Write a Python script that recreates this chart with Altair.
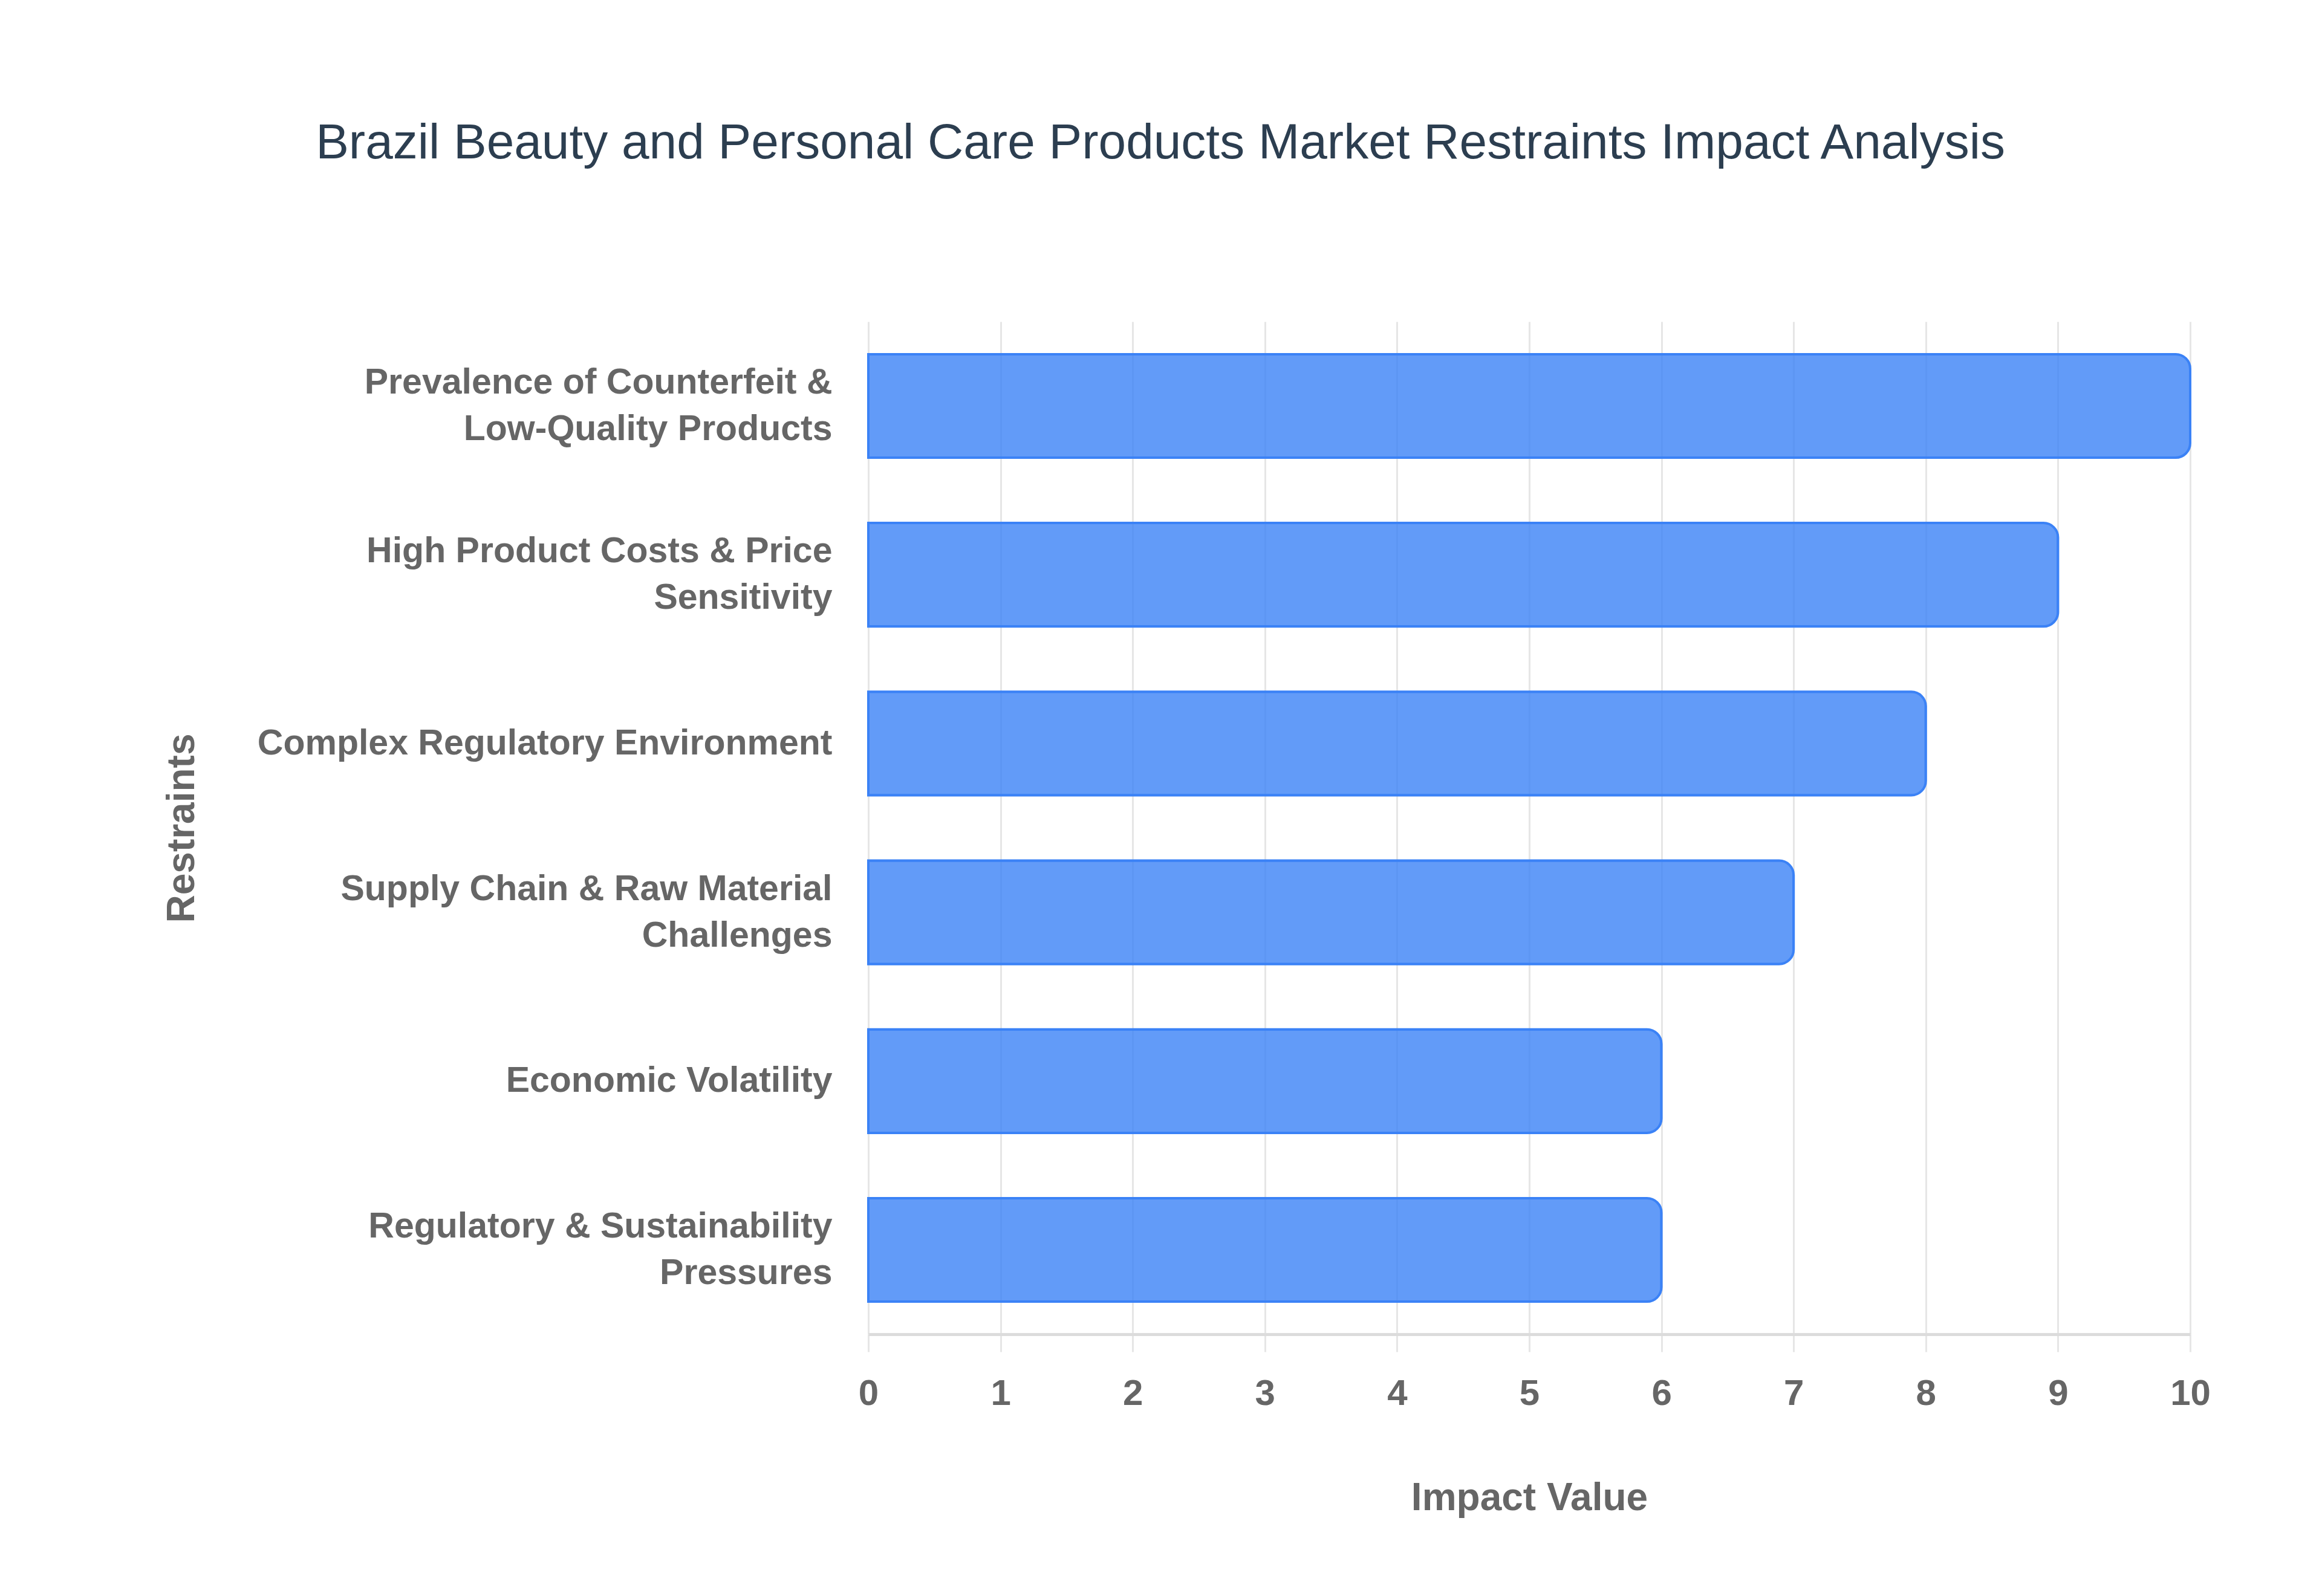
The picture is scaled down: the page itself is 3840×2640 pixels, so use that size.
import altair as alt
import pandas as pd

categories = [
    "Prevalence of Counterfeit & Low-Quality Products",
    "High Product Costs & Price Sensitivity",
    "Complex Regulatory Environment",
    "Supply Chain & Raw Material Challenges",
    "Economic Volatility",
    "Regulatory & Sustainability Pressures",
]
label_lines = [
    ["Prevalence of Counterfeit &", "Low-Quality Products"],
    ["High Product Costs & Price", "Sensitivity"],
    ["Complex Regulatory Environment"],
    ["Supply Chain & Raw Material", "Challenges"],
    ["Economic Volatility"],
    ["Regulatory & Sustainability", "Pressures"],
]
impact_values = [10, 9, 8, 7, 6, 6]
x_ticks = list(range(0, 11))

df = pd.DataFrame({"Restraint": categories, "Impact": impact_values})

LINE_H = 77

# multi-line label expression
expr = "datum.value"
for cat, lines in reversed(list(zip(categories, label_lines))):
    arr = "[" + ", ".join("'" + l + "'" for l in lines) + "]"
    expr = f"datum.value == '{cat}' ? {arr} : ({expr})"

two_line = [c for c, l in zip(categories, label_lines) if len(l) > 1]
two_line_test = "indexof([" + ", ".join("'" + c + "'" for c in two_line) + "], datum.value) >= 0"

W, H = 2186, 1675
PAD_L, PAD_T = 1428, 524

chart = (
    alt.Chart(df)
    .mark_bar(
        fill="#3b82f6",
        fillOpacity=0.8,
        stroke="#3b82f6",
        strokeWidth=4,
        cornerRadiusEnd=24,
    )
    .encode(
        x=alt.X(
            "Impact:Q",
            scale=alt.Scale(domain=[0, 10], nice=False),
            axis=alt.Axis(
                title="Impact Value",
                values=x_ticks,
                format="d",
                grid=True,
                gridColor="#e6e6e6",
                gridWidth=3,
                ticks=True,
                tickSize=29,
                tickColor="#e6e6e6",
                tickWidth=3,
                domain=True,
                domainColor="#dcdcdc",
                domainWidth=5,
                labelFlush=False,
                labelFont="Liberation Sans",
                labelFontWeight="bold",
                labelFontSize=60,
                labelColor="#666666",
                labelBaseline="middle",
                labelPadding=69,
                titleFont="Liberation Sans",
                titleFontWeight="bold",
                titleFontSize=64,
                titleColor="#666666",
                titleBaseline="middle",
                titleX=W / 2,
                titleY=271,
            ),
        ),
        y=alt.Y(
            "Restraint:N",
            sort=categories,
            scale=alt.Scale(paddingInner=0.387, paddingOuter=0.193),
            axis=alt.Axis(
                title="Restraints",
                labelExpr=expr,
                labelOffset={"condition": {"test": two_line_test, "value": -LINE_H / 2}, "value": 0},
                grid=False,
                ticks=False,
                domain=False,
                labelFont="Liberation Sans",
                labelFontWeight="bold",
                labelFontSize=59,
                labelColor="#666666",
                labelLineHeight=LINE_H,
                labelPadding=60,
                labelLimit=2000,
                titleFont="Liberation Sans",
                titleFontWeight="bold",
                titleFontSize=64,
                titleColor="#666666",
                titleAngle=270,
                titleBaseline="middle",
                titleX=-1135,
                titleY=H / 2,
            ),
        ),
    )
    .properties(
        width=W,
        height=H,
        title=alt.TitleParams(
            text="Brazil Beauty and Personal Care Products Market Restraints Impact Analysis",
            font="Liberation Sans",
            fontSize=82,
            fontWeight="normal",
            color="#2c3e50",
            anchor="middle",
            dx=-610,
            offset=253,
        ),
        autosize=alt.AutoSizeParams(type="none"),
        padding={"left": PAD_L, "top": PAD_T, "right": 150, "bottom": 350},
        background="white",
    )
    .configure_view(stroke=None)
)

chart.save("out.html", embed_options={"renderer": "svg", "actions": False})
